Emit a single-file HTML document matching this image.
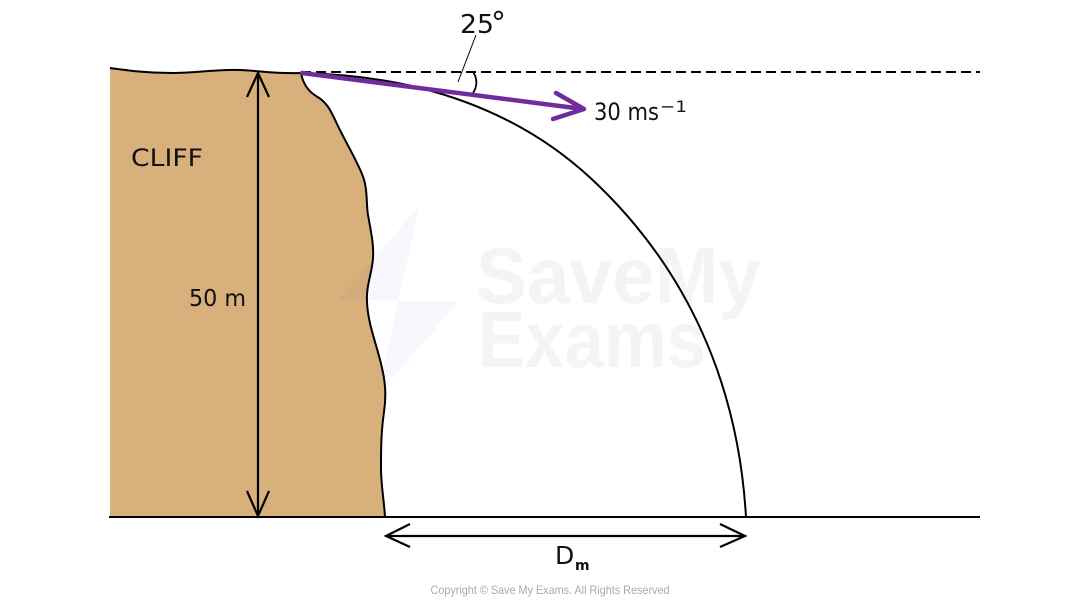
<!DOCTYPE html>
<html><head><meta charset="utf-8"><style>html,body{margin:0;padding:0;background:#fff}svg{display:block}</style></head>
<body>
<svg width="1089" height="602" viewBox="0 0 1089 602" xmlns="http://www.w3.org/2000/svg">
<rect width="1089" height="602" fill="#fff"/>
<polygon points="420,205 338,300 398,300" fill="#f7f8fe"/>
<polygon points="398,301 459,301 384,388 380,385" fill="#f7f8fe"/>
<g font-family="'Liberation Sans',sans-serif" font-weight="700" fill="#f4f4f4" font-size="80">
<text x="476" y="303" textLength="285" lengthAdjust="spacingAndGlyphs">SaveMy</text>
<text x="478" y="367" textLength="228" lengthAdjust="spacingAndGlyphs">Exams</text>
</g>
<path d="M110,68 C125,70 145,73 172,73 C195,73 220,69 240,70 C262,71 275,74 301,73 C303,84 308,91 316,96 C327,102 331,111 337,124 C345,141 355,157 362,174 C368,188 366,203 368,215 C371,232 374,245 373,258 C372,274 366,285 367,302 C368,325 377,345 382,368 C386,385 386,398 384,412 C381,432 381,450 381,468 C381,485 384,500 385,517 L110,517 Z" fill="#d7b07c"/>
<polygon points="338,300 367,300 368,280 372,262" fill="#d2ab7d"/>
<path d="M110,68 C125,70 145,73 172,73 C195,73 220,69 240,70 C262,71 275,74 301,73 C303,84 308,91 316,96 C327,102 331,111 337,124 C345,141 355,157 362,174 C368,188 366,203 368,215 C371,232 374,245 373,258 C372,274 366,285 367,302 C368,325 377,345 382,368 C386,385 386,398 384,412 C381,432 381,450 381,468 C381,485 384,500 385,517" fill="none" stroke="#000" stroke-width="2"/>
<line x1="109" y1="517" x2="980" y2="517" stroke="#000" stroke-width="2"/>
<line x1="301" y1="72" x2="980" y2="72" stroke="#000" stroke-width="2" stroke-dasharray="10 5"/>
<path d="M301,73 C341,74 380,78 420,88 C453,96.2 487,108.8 520,127 C546.7,141.7 573.3,160.8 600,187 C685,270 738,380 746,517" fill="none" stroke="#000" stroke-width="2"/>
<path d="M258,73 V516 M247,97 L258,73 L269,97 M247,491 L258,516 L269,491" fill="none" stroke="#000" stroke-width="2.2"/>
<path d="M386,536 H745 M410,524 L386,536 L410,547 M720,524 L745,536 L720,547" fill="none" stroke="#000" stroke-width="2.2"/>
<line x1="476" y1="35" x2="458" y2="82" stroke="#000" stroke-width="1"/>
<path d="M473,72 C478,79 477,87 473,93" fill="none" stroke="#000" stroke-width="1.8"/>
<path d="M302,73 L583,109 M556,93 L584,109 L553,119" fill="none" stroke="#702c9a" stroke-width="4.5" stroke-linecap="round" stroke-linejoin="round"/>
<g font-family="'DejaVu Sans','Liberation Sans',sans-serif" fill="#111">
<text x="131" y="166" font-size="24" textLength="72" lengthAdjust="spacingAndGlyphs">CLIFF</text>
<text x="189" y="306" font-size="23" textLength="57" lengthAdjust="spacingAndGlyphs">50 m</text>
<text x="460" y="33" font-size="26" textLength="34" lengthAdjust="spacingAndGlyphs">25</text>
<text x="491" y="33" font-size="30">°</text>
<text x="594" y="120" font-size="24" textLength="65" lengthAdjust="spacingAndGlyphs">30 ms</text>
<text x="660" y="112" font-size="16" textLength="27" lengthAdjust="spacingAndGlyphs">−1</text>
<text x="555" y="564" font-size="25">D</text>
<text x="575" y="570" font-size="14" font-weight="700">m</text>
</g>
<text x="550" y="594" font-family="'Liberation Sans',sans-serif" font-size="12" fill="#aaa" text-anchor="middle" textLength="239" lengthAdjust="spacingAndGlyphs">Copyright © Save My Exams. All Rights Reserved</text>
</svg>
</body></html>
